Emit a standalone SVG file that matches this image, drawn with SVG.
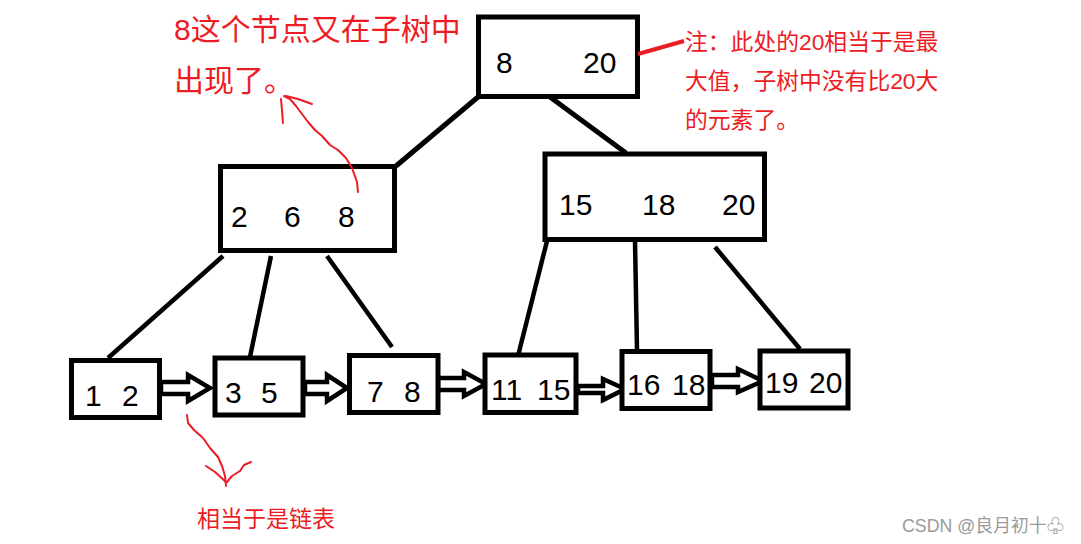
<svg xmlns="http://www.w3.org/2000/svg" width="1081" height="544" viewBox="0 0 1081 544">
<style>
.box{fill:#fff;stroke:#000;stroke-width:5}
.leaf{fill:#fff;stroke:#000;stroke-width:5}
.num{font-family:"Liberation Sans","Open Sans",sans-serif;font-size:30px;fill:#000}
.edge{stroke:#000;stroke-width:5;stroke-linecap:butt}
.edge2{stroke:#000;stroke-width:4.5;stroke-linecap:butt}
.arr{fill:#fff;stroke:#000;stroke-width:4.5;stroke-linejoin:miter}
.red{font-family:"Liberation Sans","Noto Sans CJK SC",sans-serif;fill:#ed1c24}
.pen{fill:none;stroke:#ed1c24;stroke-width:2;stroke-linecap:round;stroke-linejoin:round}
</style>
<rect width="1081" height="544" fill="#fff"/>
<g id="connectors">
<line class="edge" x1="478" y1="97" x2="396" y2="166"/>
<line class="edge" x1="550" y1="97" x2="626" y2="153"/>
<line class="edge2" x1="223" y1="256" x2="108" y2="358"/>
<line class="edge2" x1="271" y1="256" x2="250" y2="357"/>
<line class="edge2" x1="327" y1="256" x2="392" y2="347"/>
<line class="edge2" x1="547" y1="241" x2="518" y2="356"/>
<line class="edge2" x1="635" y1="241" x2="637" y2="350"/>
<line class="edge2" x1="715" y1="247" x2="800" y2="349"/>
<polygon class="arr" points="161,382 188,382 188,375 210,388 188,401 188,394 161,394"/>
<polygon class="arr" points="305,382 327,382 327,375 347,388 327,401 327,394 305,394"/>
<polygon class="arr" points="438,378 464,378 464,372 486,384 464,396 464,390 438,390"/>
<polygon class="arr" points="578,386 603,386 603,379 625,389 603,400 603,393 578,393"/>
<polygon class="arr" points="712,375 738,375 738,369 763,381 738,392 738,387 712,387"/>
</g>
<g id="root">
<rect class="box" x="478.5" y="17" width="159" height="79.5"/>
<text class="num" y="73"><tspan x="496">8</tspan><tspan x="583">20</tspan></text>
</g>
<g id="left">
<rect class="box" x="220.5" y="166.5" width="174" height="84"/>
<text class="num" y="227"><tspan x="231">2</tspan><tspan x="284">6</tspan><tspan x="338">8</tspan></text>
</g>
<g id="right">
<rect class="box" x="545" y="154" width="219.5" height="85.5"/>
<text class="num" y="215"><tspan x="559">15</tspan><tspan x="642">18</tspan><tspan x="722">20</tspan></text>
</g>
<g id="leaf1">
<rect class="leaf" x="71.5" y="360.5" width="88" height="57"/>
<text class="num" y="406"><tspan x="85">1</tspan><tspan x="122">2</tspan></text>
</g>
<g id="leaf2">
<rect class="leaf" x="215" y="358" width="88" height="57"/>
<text class="num" y="403"><tspan x="225">3</tspan><tspan x="261">5</tspan></text>
</g>
<g id="leaf3">
<rect class="leaf" x="349.5" y="355.5" width="88.5" height="57"/>
<text class="num" y="402"><tspan x="367">7</tspan><tspan x="404">8</tspan></text>
</g>
<g id="leaf4">
<rect class="leaf" x="485" y="355" width="91" height="57.5"/>
<text class="num" y="400"><tspan x="491">11</tspan><tspan x="537">15</tspan></text>
</g>
<g id="leaf5">
<rect class="leaf" x="622" y="351.5" width="88" height="57"/>
<text class="num" y="395"><tspan x="627">16</tspan><tspan x="672">18</tspan></text>
</g>
<g id="leaf6">
<rect class="leaf" x="760" y="351" width="88" height="57"/>
<text class="num" y="393"><tspan x="765">19</tspan><tspan x="809">20</tspan></text>
</g>
<g id="annotation-title">
<text class="red" font-size="30" x="174" y="40">8这个节点又在子树中</text>
<text class="red" font-size="30" x="174" y="91">出现了。</text>
<path class="pen" d="M358,192 L357,182 L352,168 L346,158 L338,150 L330,145 L322,136 L315,130 L308,122 L302,114 L296,106 L290,99 L284,96"/>
<path class="pen" d="M281,99 L282,110 L283,123"/>
<path class="pen" d="M286,96 L298,99 L312,104"/>
</g>
<g id="annotation-note">
<line x1="638" y1="54" x2="684" y2="41" stroke="#ed1c24" stroke-width="4"/>
<text class="red" font-size="22.8" x="685" y="50">注：此处的20相当于是最</text>
<text class="red" font-size="22.8" x="685" y="89">大值，子树中没有比20大</text>
<text class="red" font-size="22.8" x="685" y="128">的元素了。</text>
</g>
<g id="annotation-list">
<path class="pen" d="M187,415 L188,423 L194,430 L203,438 L210,448 L218,457 L222,466 L225,476 L226,486"/>
<path class="pen" d="M206,466 L215,472 L226,482"/>
<path class="pen" d="M251,462 L244,465 L240,471 L232,476 L227,482"/>
<text class="red" font-size="23" x="197" y="527">相当于是链表</text>
</g>
<text x="902" y="532" font-family="Liberation Sans,Noto Sans CJK SC,sans-serif" font-size="17.8" fill="#9a9a9a">CSDN @良月初十♧</text>
</svg>
